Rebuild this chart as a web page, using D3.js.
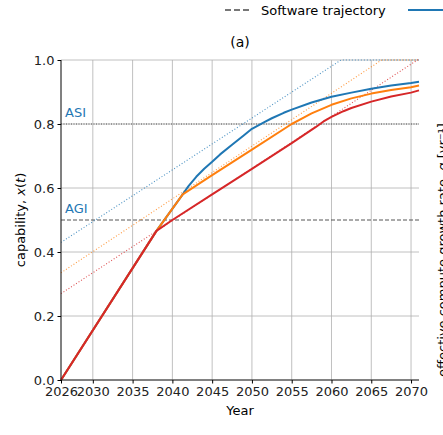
<!DOCTYPE html><html><head><meta charset="utf-8"><script src="https://d3js.org/d3.v7.min.js"></script>
<style>body{margin:0;background:#fff}text{font-family:"DejaVu Sans",sans-serif}</style></head><body><svg id="c" width="443" height="435"></svg><script>
const xTicks=[2026,2030,2035,2040,2045,2050,2055,2060,2065,2070];
const yTicks=[0,0.2,0.4,0.6,0.8,1.0];
const blueYears=[2026,2038,2041.3,2042,2043,2044,2045,2046,2047.5,2049,2050,2051.5,2052.5,2054,2055,2057.5,2060,2062.5,2065,2067.5,2070,2071];
const blueVals=[0,0.466,0.58,0.605,0.635,0.66,0.682,0.705,0.735,0.765,0.785,0.805,0.818,0.835,0.845,0.867,0.885,0.898,0.91,0.92,0.928,0.932];
const orangeYears=[2026,2038,2041.3,2045,2050,2055,2056.5,2057.5,2060,2062.5,2065,2067.5,2070,2071];
const orangeVals=[0,0.466,0.58,0.64,0.72,0.80,0.82,0.833,0.86,0.88,0.895,0.906,0.915,0.92];
const redYears=[2026,2038,2040,2045,2050,2055,2058,2059,2060,2061.5,2062.5,2065,2067.5,2070,2071];
const redVals=[0,0.466,0.50,0.58,0.66,0.74,0.79,0.808,0.822,0.84,0.85,0.87,0.886,0.898,0.905];
const blueDotYears=[2026,2061.2,2071];const blueDotVals=[0.43,1.0,1.0];
const orangeDotYears=[2026,2066.3,2071];const orangeDotVals=[0.335,1.0,1.0];
const redDotYears=[2026,2070.8,2071];const redDotVals=[0.27,1.0,1.0];
const svg=d3.select("#c");
const x=d3.scaleLinear().domain([2026,2071]).range([61,419]);
const y=d3.scaleLinear().domain([0,1]).range([380,60]);
const g=svg.append("g");
g.selectAll(".gx").data(xTicks).enter().append("line").attr("x1",d=>x(d)).attr("x2",d=>x(d)).attr("y1",60).attr("y2",380).attr("stroke","#b0b0b0").attr("stroke-width",0.8);
g.selectAll(".gy").data(yTicks).enter().append("line").attr("y1",d=>y(d)).attr("y2",d=>y(d)).attr("x1",61).attr("x2",419).attr("stroke","#b0b0b0").attr("stroke-width",0.8);
svg.append("line").attr("x1",61).attr("x2",419).attr("y1",y(0.8)).attr("y2",y(0.8)).attr("stroke","#555").attr("stroke-width",1).attr("stroke-dasharray","1,1.5");
svg.append("line").attr("x1",61).attr("x2",419).attr("y1",y(0.5)).attr("y2",y(0.5)).attr("stroke","#555").attr("stroke-width",1).attr("stroke-dasharray","4,2");
svg.append("text").attr("x",65).attr("y",y(0.8)-7).attr("fill","#1f77b4").attr("font-size",13).text("ASI");
svg.append("text").attr("x",65).attr("y",y(0.5)-7).attr("fill","#1f77b4").attr("font-size",13).text("AGI");
const line=(xs,vs)=>d3.line().x((d,i)=>x(xs[i])).y(d=>y(d))(vs);
[[blueDotYears,blueDotVals,"#1f77b4"],[orangeDotYears,orangeDotVals,"#ff7f0e"],[redDotYears,redDotVals,"#d62728"]].forEach(([a,b,c])=>svg.append("path").attr("d",line(a,b)).attr("fill","none").attr("stroke",c).attr("stroke-width",1.1).attr("stroke-dasharray","1,2").attr("opacity",0.8));
[[blueYears,blueVals,"#1f77b4"],[orangeYears,orangeVals,"#ff7f0e"],[redYears,redVals,"#d62728"]].forEach(([a,b,c])=>svg.append("path").attr("d",line(a,b)).attr("fill","none").attr("stroke",c).attr("stroke-width",2).attr("stroke-linejoin","round"));
const ax=svg.append("g").attr("transform","translate(0,380)").call(d3.axisBottom(x).tickValues(xTicks).tickFormat(d3.format("d")).tickSize(3.5));
const ay=svg.append("g").attr("transform","translate(61,0)").call(d3.axisLeft(y).tickValues(yTicks).tickFormat(d3.format(".1f")).tickSize(3.5));
[ax,ay].forEach(a=>{a.selectAll("text").attr("font-size",13).attr("fill","#222").style("font-family","DejaVu Sans");a.select(".domain").attr("stroke","#222");});
ax.select(".domain").attr("d","M61,0H419");ay.select(".domain").attr("d","M0,60V380");
svg.append("text").attr("x",240).attr("y",415).attr("text-anchor","middle").attr("font-size",13).text("Year");
svg.append("text").attr("transform","translate(25,220) rotate(-90)").attr("text-anchor","middle").attr("font-size",13).html('capability, <tspan font-style="italic">x</tspan>(<tspan font-style="italic">t</tspan>)');
svg.append("text").attr("x",240).attr("y",47).attr("text-anchor","middle").attr("font-size",14).text("(a)");
svg.append("line").attr("x1",225).attr("x2",250).attr("y1",10).attr("y2",10).attr("stroke","#777").attr("stroke-width",2).attr("stroke-dasharray","6,3");
svg.append("text").attr("x",261).attr("y",15).attr("font-size",13).text("Software trajectory");
svg.append("line").attr("x1",408).attr("x2",443).attr("y1",10).attr("y2",10).attr("stroke","#1f77b4").attr("stroke-width",2);
svg.append("text").attr("transform","translate(447,250) rotate(-90)").attr("text-anchor","middle").attr("font-size",13).html('effective compute growth rate, <tspan font-style="italic">g</tspan> [yr⁻¹]');
</script></body></html>
